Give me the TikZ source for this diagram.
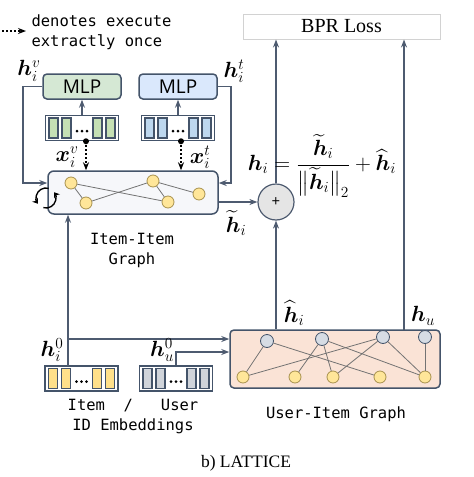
\RequirePackage{fix-cm}
\documentclass[tikz,border=0pt]{standalone}
\usepackage{amsmath,bm}
\usepackage{fontspec}
\setmonofont{DejaVu Sans Mono}
\newfontfamily\mlpfont{Open Sans}
\newfontfamily\capfont{Liberation Serif}
\usetikzlibrary{arrows.meta}

\definecolor{boxline}{HTML}{44546A}
\definecolor{flowline}{HTML}{4E5B70}
\definecolor{mlpgreen}{HTML}{D5E8D4}
\definecolor{mlpblue}{HTML}{DAE8FC}
\definecolor{bargreen}{HTML}{C5E0B4}
\definecolor{barblue}{HTML}{BDD7EE}
\definecolor{baryellow}{HTML}{FFE08A}
\definecolor{bargray}{HTML}{D0D4DA}
\definecolor{iigfill}{HTML}{F6F7FA}
\definecolor{uigfill}{HTML}{FAE3D6}
\definecolor{itemnode}{HTML}{FFE699}
\definecolor{itemedge}{HTML}{A8924E}
\definecolor{usernode}{HTML}{D6DCE4}

% embedding vector: frame, two bars, dots, two bars
\newcommand{\embvec}[4]{%
  \node[vecbox] (#1) at (#2,#3) {};
  \foreach \dx in {-33,-20,11,24}
    \draw[vecbar, fill=#4] (#2+\dx,#3-10) rectangle ++(9,20);
  \foreach \dx in {-5,0,5}
    \fill (#2+\dx,#3+3) circle (1.5pt);
}

\begin{document}
\begin{tikzpicture}[x=1pt, y=-1pt,
        flow/.style={draw=flowline, line width=1.5pt, -{Stealth[length=8pt,width=6pt]}},
        once/.style={draw=black, line width=2pt, dotted, -{Stealth[length=8pt,width=6pt]}},
        mlpbox/.style={rectangle, rounded corners=4pt, draw=boxline, line width=1.5pt, minimum width=78pt, minimum height=25pt, font=\mlpfont\fontsize{19}{22}\selectfont},
        vecbox/.style={rectangle, draw=boxline, line width=1.5pt, minimum width=73pt, minimum height=25pt, inner sep=0pt},
        vecbar/.style={draw=boxline, line width=1.2pt},
        graphbox/.style={rectangle, rounded corners=6pt, draw=boxline, line width=1.5pt},
        inode/.style={circle, draw=itemedge, fill=itemnode, line width=0.8pt, minimum size=12pt, inner sep=0pt},
        unode/.style={circle, draw=boxline, fill=usernode, line width=0.8pt, minimum size=13pt, inner sep=0pt},
        gedge/.style={draw=gray!90!black, line width=0.8pt},
        lbl/.style={font=\fontsize{22}{26}\selectfont},
        mono/.style={font=\ttfamily\fontsize{15.5}{20}\selectfont, align=center},
        cycarrow/.style={draw=black, line width=1.4pt, -{Stealth[length=5pt,width=7pt]}}
    ]
    \useasboundingbox (0,0) rectangle (474,477);

    % legend
    \coordinate (lgs) at (2,31);
    \coordinate (lge) at (26,31);
    \draw[once] (lgs) -- (lge);
    \node[mono, align=left, anchor=west] (legend) at (28,32) {denotes execute\\extractly once};

    % loss
    \node[rectangle, draw=gray!35, line width=1pt, fill=white, minimum width=197pt, minimum height=25pt,
          font=\capfont\fontsize{20}{24}\selectfont] (bpr) at (341.5,26.5) {BPR Loss};

    % modality branches
    \node[mlpbox, fill=mlpgreen] (mlpv) at (82,86.5) {MLP};
    \node[mlpbox, fill=mlpblue] (mlpt) at (178,86.5) {MLP};
    \embvec{vecv}{82}{128}{bargreen}
    \embvec{vect}{178}{128}{barblue}
    \draw[flow] (vecv.north) -- (mlpv.south);
    \draw[flow] (vect.north) -- (mlpt.south);

    % item-item graph
    \node[graphbox, fill=iigfill, minimum width=170pt, minimum height=43pt] (iig) at (133,192.5) {};
    \node[inode] (a1) at (71,183) {};
    \node[inode] (a2) at (86,203) {};
    \node[inode] (a3) at (153,181) {};
    \node[inode] (a4) at (168,202) {};
    \node[inode] (a5) at (199,194) {};
    \foreach \s/\t in {a1/a2, a1/a4, a2/a3, a3/a4, a3/a5}
        \draw[gedge] (\s) -- (\t);
    \node[mono] (iiglabel) at (132,250) {Item-Item\\Graph};

    % refresh icon
    \coordinate (cyc) at (46,198);
    \draw[cycarrow] ([shift={(75:10pt)}]cyc) arc[start angle=75, end angle=215, radius=10pt];
    \draw[cycarrow] ([shift={(255:10pt)}]cyc) arc[start angle=255, end angle=395, radius=10pt];

    % dotted inputs
    \coordinate (xv) at ([xshift=4pt]vecv.south);
    \coordinate (xt) at ([xshift=3pt]vect.south);
    \fill (xv) circle (3pt);
    \fill (xt) circle (3pt);
    \draw[once] (xv) -- (xv |- iig.north);
    \draw[once] (xt) -- (xt |- iig.north);
    \node[lbl] (xvl) at (67,157) {$\bm{x}_i^{v}$};
    \node[lbl] (xtl) at (200,157) {$\bm{x}_i^{t}$};

    % feedback of MLP outputs
    \coordinate (fbv) at (23,183);
    \coordinate (fbt) at (231,183);
    \draw[flow] (mlpv.west) -| (fbv) -- (fbv -| iig.west);
    \draw[flow] (mlpt.east) -| (fbt) -- (fbt -| iig.east);
    \node[lbl] (hvl) at (29,71) {$\bm{h}_i^{v}$};
    \node[lbl] (htl) at (234,71) {$\bm{h}_i^{t}$};

    % fusion
    \node[circle, draw=flowline, fill=gray!20, line width=1.2pt, minimum size=36pt, inner sep=0pt,
          font=\mlpfont\fontsize{15}{18}\selectfont] (plus) at (276,202) {+};
    \draw[flow] (iig.east |- plus) -- (plus.west);
    \node[lbl] (htil) at (236,223) {$\widetilde{\bm{h}}_i$};
    \draw[flow] (plus.north) -- (plus.north |- bpr.south);
    \node[lbl] (fuse) at (322,166) {$\bm{h}_i = \dfrac{\widetilde{\bm{h}}_i}{\big\|\widetilde{\bm{h}}_i\big\|_2} + \widehat{\bm{h}}_i$};

    % user-item graph
    \node[graphbox, rounded corners=4pt, fill=uigfill, minimum width=210pt, minimum height=58pt] (uig) at (335,359) {};
    \node[unode] (u1) at (267,341) {};
    \node[unode] (u2) at (322,339) {};
    \node[unode] (u3) at (383,337) {};
    \node[unode] (u4) at (425,337) {};
    \node[inode] (v1) at (243,377) {};
    \node[inode] (v2) at (295,377) {};
    \node[inode] (v3) at (333,377) {};
    \node[inode] (v4) at (380,377) {};
    \node[inode] (v5) at (425,377) {};
    \foreach \s/\t in {u1/v1, u1/v4, u2/v2, u2/v3, u2/v5, u3/v1, u3/v3, u3/v5, u4/v5}
        \draw[gedge] (\s) -- (\t);
    \node[mono] (uiglabel) at (336,414) {User-Item Graph};

    \draw[flow] (plus.south |- uig.north) -- (plus.south);
    \node[lbl] (hhat) at (294,313) {$\widehat{\bm{h}}_i$};
    \coordinate (uout) at (404,330);
    \draw[flow] (uout) -- (uout |- bpr.south);
    \node[lbl] (hul) at (423,316) {$\bm{h}_u$};

    % id embeddings
    \embvec{veci}{81.5}{378.5}{baryellow}
    \embvec{vecu}{176}{378.5}{bargray}
    \coordinate (iup) at (68,366);
    \coordinate (ibr) at (68,339);
    \draw[flow] (iup) -- (iup |- iig.south);
    \draw[flow] (ibr) -- (ibr -| uig.west);
    \draw[flow] (vecu.north) |- ([yshift=7pt]uig.west);
    \node[lbl] (hi0) at (52,350) {$\bm{h}_i^{0}$};
    \node[lbl] (hu0) at (162,350) {$\bm{h}_u^{0}$};
    \node[mono] (idlabel) at (133,417) {Item\ \ /\ \ \ User\\ID Embeddings};

    \node[font=\capfont\fontsize{17.5}{21}\selectfont] (caption) at (246,463) {b) LATTICE};
\end{tikzpicture}
\end{document}
